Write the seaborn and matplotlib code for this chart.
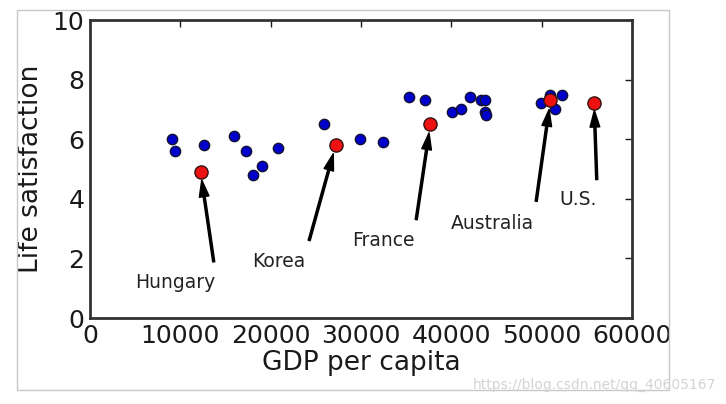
import matplotlib
matplotlib.use("Agg")
import matplotlib.pyplot as plt
import seaborn as sns
import pandas as pd
from matplotlib.patches import Rectangle

# Data
gdp_blue = [9080, 9410, 12620, 15940, 17270, 18040, 19040, 20810, 25900, 29890,
            32440, 35320, 37090, 40080, 41070, 42070, 43290, 43730, 43730, 43840,
            49930, 50920, 51470, 52250]
life_blue = [6.0, 5.6, 5.8, 6.1, 5.6, 4.8, 5.1, 5.7, 6.5, 6.0,
             5.9, 7.4, 7.3, 6.9, 7.0, 7.4, 7.3, 7.3, 6.9, 6.8,
             7.2, 7.5, 7.0, 7.5]
countries = ["Hungary", "Korea", "France", "Australia", "U.S."]
gdp_red = [12240, 27195, 37675, 50962, 55805]
life_red = [4.9, 5.8, 6.5, 7.3, 7.2]
text_x = [5000, 18000, 29000, 40000, 52000]
text_y = [1.0, 1.7, 2.4, 3.0, 3.8]
xticks = [0, 10000, 20000, 30000, 40000, 50000, 60000]
yticks = [0, 2, 4, 6, 8, 10]

sns.set_style("white")
plt.rcParams['font.family'] = ['DejaVu Sans']

fig = plt.figure(figsize=(7.26, 4.04), dpi=100)
ax = fig.add_axes([90/726, 1-318/404, (632-90)/726, (318-20)/404])

blue_df = pd.DataFrame({"gdp": gdp_blue, "life": life_blue})
red_df = pd.DataFrame({"gdp": gdp_red, "life": life_red, "country": countries})

sns.scatterplot(data=blue_df, x="gdp", y="life", ax=ax, color="#0000cc",
                edgecolor="#111133", linewidth=1.0, s=55, zorder=3)

for c, gx, ly, tx, ty in zip(countries, gdp_red, life_red, text_x, text_y):
    ax.annotate(c, xy=(gx, ly), xytext=(tx, ty), fontsize=13.5, color="#222222",
                arrowprops=dict(facecolor='black', edgecolor='black', width=1.5,
                                shrink=0.08, headwidth=7, headlength=12))

sns.scatterplot(data=red_df, x="gdp", y="life", ax=ax, color="#ee1111",
                edgecolor="#331111", linewidth=1.0, s=90, zorder=4)

ax.set_xlim(0, 60000)
ax.set_ylim(0, 10)
ax.set_xticks(xticks)
ax.set_yticks(yticks)
ax.set_xticklabels([str(v) for v in xticks])
ax.set_yticklabels([str(v) for v in yticks])
ax.tick_params(direction="in", length=5, width=1, top=True, right=True,
               labelsize=18, colors="#1a1a1a", pad=4)
for sp in ax.spines.values():
    sp.set_visible(True)
    sp.set_linewidth(2)
    sp.set_color("#333333")
ax.set_xlabel("GDP per capita", fontsize=19, color="#1a1a1a", labelpad=2)
ax.set_ylabel("Life satisfaction", fontsize=19, color="#1a1a1a", labelpad=6)

# screenshot frame and watermark
fig.patches.append(Rectangle((17/726, 1-390/404), (669-17)/726, (390-10)/404,
                             transform=fig.transFigure, fill=False,
                             edgecolor="#c8c8c8", linewidth=1))
fig.text(716/726, 1-385/404, "https://blog.csdn.net/qq_40605167", ha="right",
         va="center", fontsize=10, color="#d4d4d4")

fig.savefig("out.png", dpi=100)
